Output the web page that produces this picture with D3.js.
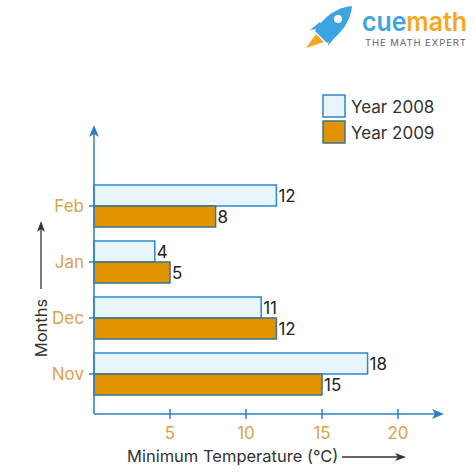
<!DOCTYPE html>
<html>
<head>
<meta charset="utf-8">
<script src="https://cdn.jsdelivr.net/npm/d3@7"></script>
<style>
  body { margin: 0; background: #fff; }
  svg { display: block; font-family: Inter, "Open Sans", sans-serif; }
</style>
</head>
<body>
<div class="chart"></div>
<script>
  const months = ['Feb', 'Jan', 'Dec', 'Nov']
  const year2008 = [12, 4, 11, 18]
  const year2009 = [8, 5, 12, 15]
  const seriesNames = ['Year 2008', 'Year 2009']
  const xTicks = [5, 10, 15, 20]

  const W = 474, H = 474
  const axisBlue = '#2f80c3', labelOrange = '#dba24e'
  const fill08 = '#e9f5fd', stroke08 = '#2f86c9'
  const fill09 = '#e29400', stroke09 = '#3b7390'

  let svg = d3.select('.chart').append('svg')
    .attr('width', W)
    .attr('height', H)

  let x = d3.scaleLinear().domain([0, 20]).range([94, 398])
  let y = d3.scaleBand().domain(months).range([178, 402])
    .paddingInner(0.25).paddingOuter(0.125)
  let half = y.bandwidth() / 2

  // logo
  let logo = svg.append('g').attr('transform', 'translate(302,4)')
  logo.append('path')
    .attr('d', 'M4 44 L14 30 L22 38 Z')
    .style('fill', '#f6a81c')
  logo.append('path')
    .attr('d', 'M13 27 C22 12 36 3 50 2 C49 16 40 30 25 39 Z')
    .style('fill', '#3aa5e0')
  logo.append('path')
    .attr('d', 'M8 26 L18 18 L22 24 Z M26 42 L34 32 L28 28 Z')
    .style('fill', '#3aa5e0')
  logo.append('circle').attr('cx', 36).attr('cy', 15).attr('r', 4).style('fill', '#fff')
  let brand = svg.append('text')
    .attr('x', 362).attr('y', 31)
    .attr('textLength', 105).attr('lengthAdjust', 'spacingAndGlyphs')
    .style('font-size', '26px').style('font-weight', 600)
  brand.append('tspan').text('cue').style('fill', '#3aa5e0')
  brand.append('tspan').text('math').style('fill', '#f6a81c')
  svg.append('text')
    .attr('x', 365).attr('y', 46)
    .attr('textLength', 101)
    .style('font-size', '9.5px').style('fill', '#666')
    .text('THE MATH EXPERT')

  // legend
  let legend = svg.selectAll('.legend').data(seriesNames).enter()
    .append('g')
    .attr('class', 'legend')
    .attr('transform', (d, i) => `translate(323,${95 + i * 26})`)
  legend.append('rect')
    .attr('width', 22).attr('height', 22)
    .style('fill', (d, i) => i ? fill09 : fill08)
    .style('stroke', (d, i) => i ? stroke09 : stroke08)
    .style('stroke-width', 1.5)
  legend.append('text')
    .attr('x', 28).attr('y', 18)
    .style('font-size', '17px').style('fill', '#333')
    .text(d => d)

  // bars
  let rows = svg.selectAll('.row').data(months).enter()
    .append('g').attr('class', 'row')
  rows.append('rect')
    .attr('x', x(0))
    .attr('y', d => y(d))
    .attr('width', (d, i) => x(year2008[i]) - x(0))
    .attr('height', half)
    .style('fill', fill08).style('stroke', stroke08).style('stroke-width', 1.5)
  rows.append('rect')
    .attr('x', x(0))
    .attr('y', d => y(d) + half)
    .attr('width', (d, i) => x(year2009[i]) - x(0))
    .attr('height', half)
    .style('fill', fill09).style('stroke', stroke09).style('stroke-width', 1.5)
  rows.append('text')
    .attr('x', (d, i) => x(year2008[i]) + 2)
    .attr('y', d => y(d) + half / 2 + 6)
    .style('font-size', '17px').style('fill', '#222')
    .text((d, i) => year2008[i])
  rows.append('text')
    .attr('x', (d, i) => x(year2009[i]) + 2)
    .attr('y', d => y(d) + half * 1.5 + 6)
    .style('font-size', '17px').style('fill', '#222')
    .text((d, i) => year2009[i])

  // axes
  let axisY = 414
  svg.append('line')
    .attr('x1', x(0)).attr('x2', 438).attr('y1', axisY).attr('y2', axisY)
    .style('stroke', axisBlue).style('stroke-width', 1.5)
  svg.append('path')
    .attr('d', `M444 ${axisY} L432 ${axisY - 5} L435 ${axisY} L432 ${axisY + 5} Z`)
    .style('fill', axisBlue)
  svg.append('line')
    .attr('x1', x(0)).attr('x2', x(0)).attr('y1', axisY).attr('y2', 132)
    .style('stroke', axisBlue).style('stroke-width', 1.5)
  svg.append('path')
    .attr('d', `M${x(0)} 125 L${x(0) - 5} 137 L${x(0)} 134 L${x(0) + 5} 137 Z`)
    .style('fill', axisBlue)

  let xt = svg.selectAll('.xtick').data(xTicks).enter().append('g').attr('class', 'xtick')
  xt.append('line')
    .attr('x1', d => x(d)).attr('x2', d => x(d))
    .attr('y1', axisY - 5).attr('y2', axisY + 5)
    .style('stroke', axisBlue).style('stroke-width', 1.5)
  xt.append('text')
    .attr('x', d => x(d)).attr('y', axisY + 25)
    .attr('text-anchor', 'middle')
    .style('font-size', '17px').style('fill', labelOrange)
    .text(d => d)

  let yt = svg.selectAll('.ytick').data(months).enter().append('g').attr('class', 'ytick')
  yt.append('line')
    .attr('x1', x(0) - 5).attr('x2', x(0))
    .attr('y1', d => y(d) + half).attr('y2', d => y(d) + half)
    .style('stroke', axisBlue).style('stroke-width', 1.5)
  yt.append('text')
    .attr('x', x(0) - 10).attr('y', d => y(d) + half + 6)
    .attr('text-anchor', 'end')
    .style('font-size', '17px').style('fill', labelOrange)
    .text(d => d)

  // axis titles
  svg.append('text')
    .attr('x', 127).attr('y', 462)
    .style('font-size', '16.5px').style('fill', '#333')
    .text('Minimum Temperature (°C)')
  svg.append('line')
    .attr('x1', 342).attr('x2', 398).attr('y1', 457).attr('y2', 457)
    .style('stroke', '#333').style('stroke-width', 1.3)
  svg.append('path')
    .attr('d', 'M406 457 L395 453 L398 457 L395 461 Z')
    .style('fill', '#333')

  svg.append('text')
    .attr('transform', 'translate(47,328) rotate(-90)')
    .attr('text-anchor', 'middle')
    .style('font-size', '16.5px').style('fill', '#333')
    .text('Months')
  svg.append('line')
    .attr('x1', 41).attr('x2', 41).attr('y1', 289).attr('y2', 229)
    .style('stroke', '#333').style('stroke-width', 1.3)
  svg.append('path')
    .attr('d', 'M41 221 L37 232 L41 229 L45 232 Z')
    .style('fill', '#333')
</script>
</body>
</html>
